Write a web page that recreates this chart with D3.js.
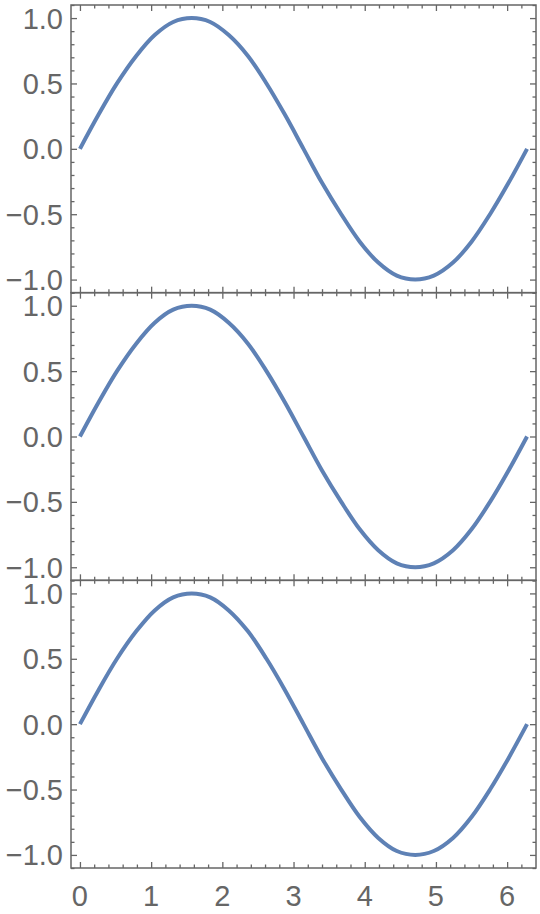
<!DOCTYPE html>
<html>
<head>
<meta charset="utf-8">
<script src="https://cdn.jsdelivr.net/npm/d3@7"></script>
<style>
  html, body { margin: 0; padding: 0; background: #fff; }
  svg { display: block; }
</style>
</head>
<body>
<svg id="chart" width="540" height="914"></svg>
<script>
// ---- data ----
const xValues = [0, 0.26, 0.52, 0.79, 1.05, 1.31, 1.57, 1.83, 2.09, 2.36, 2.62, 2.88, 3.14,
                 3.40, 3.67, 3.93, 4.19, 4.45, 4.71, 4.97, 5.24, 5.50, 5.76, 6.02, 6.28];
const series1 = [0, 0.26, 0.5, 0.71, 0.87, 0.97, 1.0, 0.97, 0.87, 0.71, 0.5, 0.26, 0,
                 -0.26, -0.5, -0.71, -0.87, -0.97, -1.0, -0.97, -0.87, -0.71, -0.5, -0.26, 0];
const series2 = [0, 0.26, 0.5, 0.71, 0.87, 0.97, 1.0, 0.97, 0.87, 0.71, 0.5, 0.26, 0,
                 -0.26, -0.5, -0.71, -0.87, -0.97, -1.0, -0.97, -0.87, -0.71, -0.5, -0.26, 0];
const series3 = [0, 0.26, 0.5, 0.71, 0.87, 0.97, 1.0, 0.97, 0.87, 0.71, 0.5, 0.26, 0,
                 -0.26, -0.5, -0.71, -0.87, -0.97, -1.0, -0.97, -0.87, -0.71, -0.5, -0.26, 0];
const panelSeries = [series1, series2, series3];
const xTickValues = [0, 1, 2, 3, 4, 5, 6];
const xTickLabels = ["0", "1", "2", "3", "4", "5", "6"];
const yTickValues = [-1, -0.5, 0, 0.5, 1];
const yTickLabels = ["\u22121.0", "\u22120.5", "0.0", "0.5", "1.0"];

(function () {
// ---- layout ----
const svg = d3.select("#chart");
const mLeft = 71, mRight = 536, mTop = 5, mBottom = 868;
const panelH = (mBottom - mTop) / 3;
const frameColor = "#666666";
const labelColor = "#666666";
const lineColor = "#5E81B5";
const fontFamily = "'Liberation Sans', Arial, sans-serif";
const fontSize = 29;
const majorLen = 6, minorLen = 3.5;

const xMin = 0, xMax = 6.28;
const xPad = (xMax - xMin) * 0.02;
const x = d3.scaleLinear().domain([xMin - xPad, xMax + xPad]).range([mLeft, mRight]);

const xMinor = d3.range(0, 32).map(i => i * 0.2).filter(v => v <= 6.4 && Math.abs(v - Math.round(v)) > 1e-6);
const yMinor = d3.range(-11, 12).map(i => i * 0.1).filter(v => Math.abs(v * 2 - Math.round(v * 2)) > 1e-6);

panelSeries.forEach((vals, p) => {
  const pTop = mTop + p * panelH, pBot = pTop + panelH;
  const y = d3.scaleLinear().domain([-1.1, 1.1]).range([pBot, pTop]);
  const g = svg.append("g");

  const pts = xValues.map((xv, i) => [xv, vals[i]]);
  g.append("path")
    .datum(pts)
    .attr("fill", "none")
    .attr("stroke", lineColor)
    .attr("stroke-width", 4)
    .attr("d", d3.line().x(d => x(d[0])).y(d => y(d[1])).curve(d3.curveCatmullRom.alpha(0.5)));

  const tickStyle = sel => {
    sel.select(".domain").remove();
    sel.selectAll("line").attr("stroke", frameColor).attr("stroke-width", 1.3);
    sel.selectAll("text").remove();
  };
  const addAxis = (axis, tx, ty) => {
    const a = g.append("g").attr("transform", `translate(${tx},${ty})`).call(axis);
    tickStyle(a);
  };

  addAxis(d3.axisRight(y).tickValues(yTickValues).tickSize(majorLen), mLeft, 0);
  addAxis(d3.axisRight(y).tickValues(yMinor).tickSize(minorLen), mLeft, 0);
  addAxis(d3.axisLeft(y).tickValues(yTickValues).tickSize(majorLen), mRight, 0);
  addAxis(d3.axisLeft(y).tickValues(yMinor).tickSize(minorLen), mRight, 0);
  addAxis(d3.axisBottom(x).tickValues(xTickValues).tickSize(majorLen), 0, pTop);
  addAxis(d3.axisBottom(x).tickValues(xMinor).tickSize(minorLen), 0, pTop);
  addAxis(d3.axisTop(x).tickValues(xTickValues).tickSize(majorLen), 0, pBot);
  addAxis(d3.axisTop(x).tickValues(xMinor).tickSize(minorLen), 0, pBot);

  g.append("rect")
    .attr("x", mLeft).attr("y", pTop)
    .attr("width", mRight - mLeft).attr("height", pBot - pTop)
    .attr("fill", "none").attr("stroke", frameColor).attr("stroke-width", 1.5);

  g.selectAll("text.ylab")
    .data(yTickValues)
    .enter().append("text")
    .attr("class", "ylab")
    .attr("x", mLeft - 8)
    .attr("y", d => y(d))
    .attr("dy", "0.36em")
    .attr("text-anchor", "end")
    .attr("fill", labelColor)
    .attr("font-family", fontFamily)
    .attr("font-size", fontSize)
    .text((d, i) => yTickLabels[i]);

  if (p === panelSeries.length - 1) {
    g.selectAll("text.xlab")
      .data(xTickValues)
      .enter().append("text")
      .attr("class", "xlab")
      .attr("x", d => x(d))
      .attr("y", pBot + 38)
      .attr("text-anchor", "middle")
      .attr("fill", labelColor)
      .attr("font-family", fontFamily)
      .attr("font-size", fontSize)
      .text((d, i) => xTickLabels[i]);
  }
});
})();
</script>
</body>
</html>
